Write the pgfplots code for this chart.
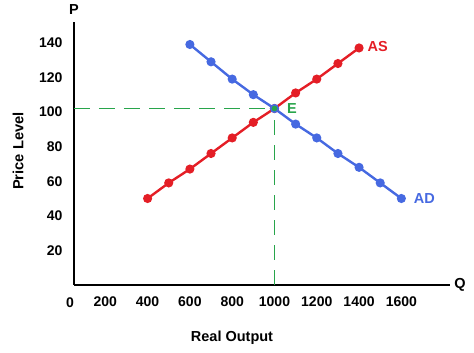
\documentclass[border=0pt]{standalone}
\usepackage{pgfplots}
\pgfplotsset{compat=1.18}
\usepackage{fontspec}
\setmainfont{Liberation Sans}
\definecolor{asred}{RGB}{228,30,38}
\definecolor{adblue}{RGB}{70,105,225}
\definecolor{eqgreen}{RGB}{40,165,75}
\begin{document}
\begin{tikzpicture}
\begin{axis}[
 at={(0,0)}, anchor=south west,
 scale only axis, width=376pt, height=263pt,
 xmin=52, xmax=1830, ymin=0, ymax=152,
 axis lines=left, axis line style={-, line width=2.2pt, black},
 xtick={200,400,...,1600}, ytick={20,40,...,140},
 major tick length=0pt,
 /pgf/number format/assume math mode=true,
 /pgf/number format/1000 sep={},
 tick label style={font=\fontsize{14}{16}\selectfont\bfseries},
 xticklabel style={yshift=-8.5pt},
 yticklabel style={xshift=-8pt},
 clip=false,
]
\addplot[eqgreen, line width=1pt, dash pattern=on 16pt off 9pt] coordinates {(52,102) (1000,102)};
\addplot[eqgreen, line width=1pt, dash pattern=on 15pt off 10pt] coordinates {(1000,0) (1000,102)};
\addplot[asred, line width=2.4pt, mark=*, mark size=3.3pt] coordinates {
(400,50) (500,59) (600,67) (700,76) (800,85) (900,94) (1000,102) (1100,111) (1200,119) (1300,128) (1400,137)};
\addplot[adblue, line width=2.4pt, mark=*, mark size=3.3pt] coordinates {
(600,139) (700,129) (800,119) (900,110) (1000,102) (1100,93) (1200,85) (1300,76) (1400,68) (1500,59) (1600,50)};
\addplot[eqgreen, only marks, mark=*, mark size=2.6pt] coordinates {(1000,102)};
\node[asred, anchor=west, font=\fontsize{14.5}{16}\selectfont\bfseries, xshift=5pt] at (axis cs:1400,138) {AS};
\node[adblue, anchor=west, font=\fontsize{14.5}{16}\selectfont\bfseries, xshift=9pt] at (axis cs:1600,50) {AD};
\node[eqgreen, anchor=west, font=\fontsize{14.5}{16}\selectfont\bfseries, xshift=9pt] at (axis cs:1000,102) {E};
\node[anchor=center, font=\fontsize{14}{16}\selectfont\bfseries] at ([xshift=-4pt,yshift=-18pt]rel axis cs:0,0) {0};
\end{axis}
\node[font=\fontsize{14.5}{16}\selectfont\bfseries] at (0pt,275pt) {P};
\node[font=\fontsize{14.5}{16}\selectfont\bfseries] at (386pt,0pt) {Q};
\node[font=\fontsize{14.7}{16}\selectfont\bfseries, rotate=90] at (-56pt,134pt) {Price Level};
\node[font=\fontsize{14.5}{16}\selectfont\bfseries] at (158pt,-53pt) {Real Output};
\pgfresetboundingbox
\path (-74pt,-68pt) rectangle (400pt,285pt);
\end{tikzpicture}
\end{document}
